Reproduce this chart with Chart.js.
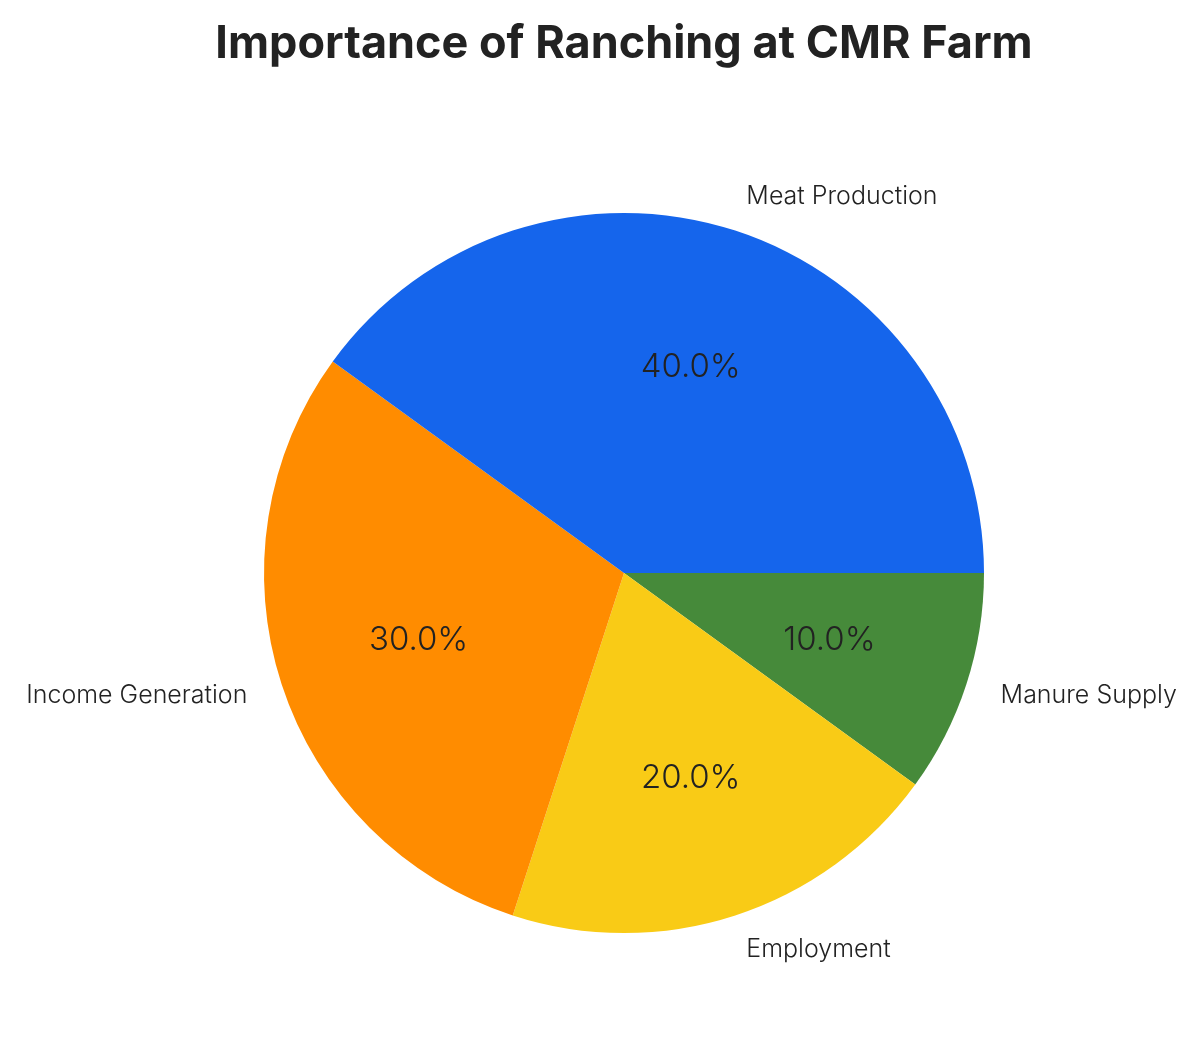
<!DOCTYPE html>
<html>
<head>
<meta charset="utf-8">
<script src="https://cdn.jsdelivr.net/npm/chart.js@4.4.1/dist/chart.umd.min.js"></script>
<style>
  html, body { margin: 0; padding: 0; background: #ffffff; }
  #wrap { width: 1200px; height: 1047px; }
</style>
</head>
<body>
<div id="wrap"><canvas id="pie" width="1200" height="1047"></canvas></div>
<script>
// Data (listed in matplotlib order: counter-clockwise from 3 o'clock)
const categories = ['Meat Production', 'Income Generation', 'Employment', 'Manure Supply'];
const shares = [40, 30, 20, 10];
const sliceColors = ['#1565ec', '#ff8c00', '#f9cb16', '#468a3a'];

// Chart.js draws clockwise, so reverse the order to get the same layout
const labelsCw = categories.slice().reverse();
const valuesCw = shares.slice().reverse();
const colorsCw = sliceColors.slice().reverse();

const FONT = 'Inter, "Noto Sans", sans-serif';

// draws outside labels (1.1 r) and percentage labels (0.6 r) like matplotlib
const pieLabels = {
    id: 'pieLabels',
    afterDatasetsDraw(chart) {
        const ctx = chart.ctx;
        const meta = chart.getDatasetMeta(0);
        const total = valuesCw.reduce((a, b) => a + b, 0);
        ctx.save();
        meta.data.forEach((arc, i) => {
            const mid = (arc.startAngle + arc.endAngle) / 2;
            const r = arc.outerRadius;
            const cx = arc.x, cy = arc.y;
            // percentage
            ctx.font = '300 33px ' + FONT;
            ctx.fillStyle = '#222222';
            ctx.textAlign = 'center';
            ctx.textBaseline = 'middle';
            const pct = (valuesCw[i] / total * 100).toFixed(1) + '%';
            ctx.fillText(pct, cx + Math.cos(mid) * r * 0.6, cy + Math.sin(mid) * r * 0.6);
            // category label
            const lx = cx + Math.cos(mid) * r * 1.1;
            const ly = cy + Math.sin(mid) * r * 1.1;
            ctx.font = '300 25px ' + FONT;
            ctx.textAlign = Math.cos(mid) >= 0 ? 'left' : 'right';
            ctx.fillText(labelsCw[i], lx, ly);
        });
        ctx.restore();
    }
};

new Chart(document.getElementById('pie'), {
    type: 'pie',
    data: {
        labels: labelsCw,
        datasets: [{
            data: valuesCw,
            backgroundColor: colorsCw,
            borderWidth: 0,
            hoverOffset: 0
        }]
    },
    options: {
        responsive: false,
        animation: false,
        rotation: 90,
        layout: { padding: { top: 17, left: 48, right: 0, bottom: 114 } },
        plugins: {
            legend: { display: false },
            tooltip: { enabled: false },
            title: {
                display: true,
                text: 'Importance of Ranching at CMR Farm',
                color: '#222222',
                font: { family: FONT, size: 45, weight: 'bold', lineHeight: 1.2 },
                padding: { top: 0, bottom: 142 }
            }
        }
    },
    plugins: [pieLabels]
});
</script>
</body>
</html>
